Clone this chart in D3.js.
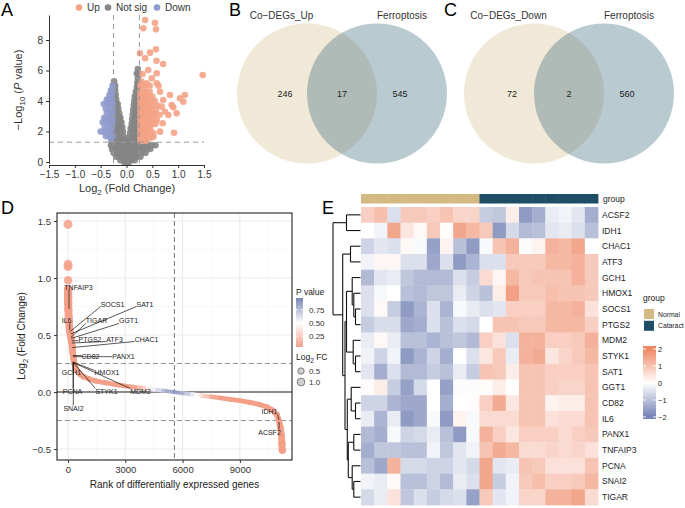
<!DOCTYPE html>
<html>
<head>
<meta charset="utf-8">
<script src="https://cdn.jsdelivr.net/npm/d3@7"></script>
<style>
  body { margin: 0; background: #fff; }
  text { font-family: "Liberation Sans", Arial, Helvetica, sans-serif; }
</style>
</head>
<body>
<svg id="fig" width="685" height="508"></svg>
<script>
// ---------- data ----------
// A: volcano, rows of [-log10 P, [log2FC ...]]
const volcanoNotSig = [
  [5.3, [-0.24]], [5.0, [-0.25, -0.22]], [4.7, [-0.25, -0.22]], [4.4, [-0.25, -0.21]],
  [4.1, [-0.24, -0.2]], [3.8, [-0.24, -0.2, -0.17]], [3.5, [-0.24, -0.2, -0.16]],
  [3.2, [-0.24, -0.19, -0.14]], [2.9, [-0.24, -0.19, -0.14, -0.12]],
  [2.6, [-0.24, -0.18, -0.13, -0.1]], [2.3, [-0.24, -0.18, -0.13, -0.08]],
  [2.0, [-0.24, -0.18, -0.12, -0.07]], [1.7, [-0.24, -0.18, -0.12, -0.06]],
  [1.45, [-0.24, -0.18, -0.12, -0.06, -0.03]],
  [6.1, [0.22]], [5.8, [0.2, 0.23]], [5.5, [0.22]], [5.2, [0.21, 0.24]], [4.9, [0.2, 0.23]],
  [4.6, [0.18, 0.22]], [4.3, [0.16, 0.2, 0.24]], [4.0, [0.15, 0.2, 0.24]],
  [3.7, [0.14, 0.19, 0.24]], [3.4, [0.13, 0.18, 0.23]], [3.1, [0.12, 0.17, 0.22]],
  [2.8, [0.11, 0.16, 0.21]], [2.5, [0.1, 0.15, 0.2, 0.24]], [2.2, [0.08, 0.13, 0.18, 0.23]],
  [1.9, [0.07, 0.12, 0.17, 0.22]], [1.6, [0.05, 0.1, 0.15, 0.2, 0.24]],
  [1.3, [-0.28, -0.22, -0.16, -0.1, -0.04, 0.03, 0.08, 0.13, 0.18, 0.23, 0.29, 0.35]],
  [1.1, [-0.3, -0.24, -0.18, -0.12, -0.06, -0.02, 0.02, 0.07, 0.12, 0.17, 0.22, 0.28, 0.34, 0.41, 0.48, 0.56]],
  [0.85, [-0.28, -0.22, -0.16, -0.1, -0.05, 0, 0.05, 0.1, 0.15, 0.2, 0.26, 0.32, 0.39, 0.46]],
  [0.6, [-0.25, -0.19, -0.13, -0.08, -0.03, 0.02, 0.07, 0.12, 0.17, 0.23, 0.3, 0.37]],
  [0.35, [-0.2, -0.14, -0.09, -0.04, 0, 0.04, 0.09, 0.14, 0.2, 0.27]],
  [0.12, [-0.12, -0.07, -0.03, 0.01, 0.05, 0.1, 0.16]],
  [-0.05, [-0.04, 0, 0.04]]
];
const volcanoDown = [
  [5.0, [-0.27]], [4.7, [-0.3, -0.27]], [4.4, [-0.33, -0.28]], [4.1, [-0.38, -0.32, -0.27]],
  [3.8, [-0.44, -0.37, -0.3, -0.27]], [3.5, [-0.4, -0.33, -0.27]], [3.2, [-0.38, -0.31, -0.27]],
  [2.9, [-0.43, -0.36, -0.3, -0.27]], [2.6, [-0.46, -0.4, -0.33, -0.27]],
  [2.3, [-0.42, -0.35, -0.28]], [2.0, [-0.5, -0.44, -0.37, -0.3]], [1.7, [-0.4, -0.33, -0.27]],
  [1.5, [-0.3]]
];
const volcanoUp = [
  [5.0, [0.27, 0.33, 0.37, 0.45, 0.62]], [4.6, [0.27, 0.32, 0.38, 0.45]],
  [4.3, [0.27, 0.31, 0.36, 0.42, 0.5]], [4.0, [0.27, 0.31, 0.36, 0.41, 0.47, 0.55]],
  [3.7, [0.27, 0.31, 0.35, 0.4, 0.45, 0.52, 0.6]], [3.4, [0.27, 0.31, 0.35, 0.4, 0.45, 0.5, 0.57]],
  [3.1, [0.27, 0.31, 0.35, 0.39, 0.44, 0.5, 0.56, 0.64]], [2.8, [0.27, 0.31, 0.35, 0.39, 0.44, 0.5]],
  [2.5, [0.27, 0.31, 0.35, 0.4, 0.45, 0.5, 0.56]], [2.2, [0.27, 0.31, 0.35, 0.4, 0.46]],
  [1.9, [0.27, 0.31, 0.35, 0.4, 0.45, 0.52]], [1.6, [0.27, 0.31, 0.36, 0.42, 0.48]],
  [1.4, [0.27, 0.32, 0.38]]
];
// scattered up-regulated points [log2FC, -log10 P]
const volcanoUpScatter = [
  [0.36, 9.31], [0.55, 9.13], [0.57, 8.70], [0.325, 8.77], [0.57, 7.39], [0.455, 7.17],
  [0.26, 7.13], [0.36, 6.80], [0.58, 6.64], [0.71, 6.43], [1.475, 5.70], [0.42, 6.03],
  [0.585, 5.82], [0.31, 5.77], [0.49, 5.49], [0.39, 5.16], [0.585, 5.16], [0.29, 5.27],
  [0.65, 4.61], [0.84, 4.39], [1.035, 4.18], [1.13, 4.39], [0.71, 4.07], [0.875, 3.74],
  [1.10, 3.95], [0.68, 3.63], [0.81, 3.08], [0.97, 3.19], [0.745, 3.30], [0.905, 3.59],
  [0.92, 1.92], [0.70, 2.54], [0.585, 2.75], [0.65, 1.99], [0.52, 1.66]
];
const volcanoXTicks = [-1.5, -1.0, -0.5, 0.0, 0.5, 1.0, 1.5];
const volcanoYTicks = [0, 2, 4, 6, 8];
const volcanoGroups = ["Up", "Not sig", "Down"];

// B, C: Venn
const vennLeftNames = ["Co\u2212DEGs_Up", "Co\u2212DEGs_Down"];
const vennRightNames = ["Ferroptosis", "Ferroptosis"];
const vennCounts = [[246, 17, 545], [72, 2, 560]];

// D: ranked log2FC curve
const rankCurve = [1, 2, 3, 4, 5, 6, 10, 20, 35, 50, 70, 100, 130, 160, 190, 220, 250, 280, 320, 420,
  600, 800, 1100, 1500, 2000, 2500, 3000, 3500, 4000, 4500, 5000, 5550, 6000, 6500, 7000, 7500,
  8000, 8500, 9000, 9500, 10000, 10400, 10700, 10940, 11040, 11120, 11170, 11200, 11220];
const fcCurve = [1.47, 1.12, 1.10, 0.98, 0.90, 0.83, 0.78, 0.72, 0.66, 0.62, 0.57, 0.53, 0.50, 0.47,
  0.44, 0.40, 0.35, 0.30, 0.26, 0.20, 0.16, 0.135, 0.115, 0.095, 0.08, 0.065, 0.053, 0.043, 0.033,
  0.022, 0.012, 0.0, -0.01, -0.02, -0.031, -0.042, -0.052, -0.064, -0.076, -0.09, -0.108, -0.13,
  -0.16, -0.20, -0.25, -0.31, -0.38, -0.45, -0.51];
const pCurve = [0.02, 0.02, 0.02, 0.02, 0.02, 0.02, 0.02, 0.02, 0.02, 0.02, 0.02, 0.02, 0.02, 0.02,
  0.02, 0.02, 0.02, 0.02, 0.02, 0.02, 0.02, 0.02, 0.03, 0.03, 0.03, 0.03, 0.04, 0.08, 0.3, 0.55,
  0.75, 0.9, 0.8, 0.6, 0.35, 0.12, 0.04, 0.03, 0.03, 0.02, 0.02, 0.02, 0.02, 0.02, 0.02, 0.02,
  0.02, 0.02, 0.02];
const labelGenes = ["TNFAIP3", "SOCS1", "SAT1", "IL6", "TIGAR", "GGT1", "PTGS2", "ATF3", "CHAC1",
  "CD82", "PANX1", "GCH1", "HMOX1", "PCNA", "STYK1", "MDM2", "SNAI2", "IDH1", "ACSF2"];
const labelRank = [52, 105, 157, 90, 157, 165, 190, 200, 220, 255, 262, 270, 275, 272, 280, 285, 278, 11047, 11050];
const labelFC = [0.73, 0.53, 0.51, 0.545, 0.48, 0.47, 0.45, 0.43, 0.39, 0.32, 0.31, 0.265, 0.262,
  0.262, 0.26, 0.258, 0.26, -0.245, -0.263];
const rankTicks = [0, 3000, 6000, 9000];
const fcTicks = [-0.5, 0.0, 0.5, 1.0, 1.5];
const pLegendTicks = [0.25, 0.5, 0.75];
const fcLegendSizes = [0.5, 1.0];

// E: heatmap
const heatGenes = ["ACSF2", "IDH1", "CHAC1", "ATF3", "GCH1", "HMOX1", "SOCS1", "PTGS2", "MDM2",
  "STYK1", "SAT1", "GGT1", "CD82", "IL6", "PANX1", "TNFAIP3", "PCNA", "SNAI2", "TIGAR"];
const sampleGroups = ["Normal", "Normal", "Normal", "Normal", "Normal", "Normal", "Normal", "Normal", "Normal",
  "Cataract", "Cataract", "Cataract", "Cataract", "Cataract", "Cataract", "Cataract", "Cataract", "Cataract"];
const heatValues = [
  [0.8, 1.1, -0.5, 0.9, 0.9, 0.8, 1.0, 0.7, 0.7, -0.8, -0.9, 0.3, -1.6, -1.3, -0.3, -0.2, -0.4, -1.3],
  [0, -0.2, 1.5, 0.4, 0.1, 0.9, 0.05, 1.5, 1.2, 0.9, -1.6, -0.6, -1.1, -1.0, -0.4, -0.3, -0.5, -1.0],
  [-0.7, -0.4, -0.5, 0.1, -0.1, -1.5, 0.2, -1.0, -1.6, -0.1, 1.0, 1.3, -0.05, 0.2, 1.3, 1.2, 1.5, 0],
  [-0.2, 0.15, 0.15, -0.5, -0.5, -1.4, -0.5, -1.6, -1.2, -0.5, -0.5, 0.9, 0.9, 0.9, 1.2, 1.2, 1.3, 0.9],
  [-1.1, -0.4, -0.3, -0.9, -1.1, -1.1, -1.1, -0.5, -0.8, 0.6, 0.15, 1.2, 0.9, 1.0, 1.0, 1.0, 1.3, 0.9],
  [-0.5, -0.1, 0, -1.0, -1.1, -0.9, -0.9, -0.3, -0.7, -1.0, 0.3, 1.6, 0.9, 0.9, 1.1, 1.0, 1.0, 0.9],
  [-0.5, 0.1, -0.8, -1.6, -1.2, -0.5, -1.2, -0.1, -0.3, -0.5, -0.4, 0.8, 0.8, 0.8, 1.2, 1.2, 1.3, 0.5],
  [-0.8, -0.55, -0.55, -1.4, -1.3, -0.5, -1.0, -0.5, -0.6, 0.0, 1.0, 1.0, 0.9, 0.9, 1.2, 1.2, 1.2, 0.8],
  [-0.3, 0.1, -0.3, -1.0, -1.0, -1.2, -1.0, -0.9, -1.1, 0.8, 0.5, -0.5, 1.3, 1.3, 0.8, 0.8, 0.9, 1.3],
  [-0.2, -0.7, -0.2, -1.6, -1.2, -0.7, -1.3, 0.0, -0.5, 0.4, 0.9, -0.3, 1.3, 1.4, 0.4, 0.7, 0.9, 1.2],
  [-0.4, -1.3, -0.5, -1.1, -1.1, -0.8, -1.0, -0.3, -0.8, 1.0, 0.9, 0.3, 1.0, 1.0, 0.8, 0.8, 0.8, 1.0],
  [0.05, 0.3, -0.8, -1.5, -0.6, 0.0, -1.5, -0.05, -0.05, 0.05, 0.3, 0.0, 1.0, 1.0, 0.8, 0.7, 0.7, 1.0],
  [-0.7, -0.7, -1.2, -1.4, -1.4, 0.0, -1.3, 0.0, 0.05, 0.8, 1.4, 0.4, 1.0, 1.0, 0.2, 0.3, 0.3, 1.0],
  [-0.3, -1.2, -0.3, -1.6, -1.4, -0.1, -1.6, 0.2, -0.1, 0.6, 0.6, 0.6, 1.0, 1.0, 0.5, 0.6, 0.6, 1.0],
  [-1.1, -1.3, -0.1, -0.7, -0.6, -0.3, -1.0, -1.6, -0.1, 1.3, 0.8, 0.4, 0.8, 0.8, 0.8, 0.6, 0.8, 0.9],
  [-1.3, -0.9, -0.9, -1.0, -1.0, -0.2, -0.9, -0.4, -0.2, 1.0, 1.4, 1.2, 0.6, 0.6, 0.7, 0.6, 0.7, 0.5],
  [-1.0, -1.4, 1.3, -0.6, -0.6, -0.7, -0.7, -0.4, -0.6, 1.5, -0.4, -0.3, 1.0, 0.9, 0.5, 0.5, 0.5, 1.0],
  [-0.2, -0.3, 0.1, -1.0, -1.0, -0.7, -1.1, -0.3, -0.5, 1.5, -0.8, -0.2, 0.9, 1.1, 0.8, 0.8, 0.9, 1.2],
  [-0.6, -0.3, 0.5, -0.9, -0.5, -0.8, -0.6, -0.5, -1.5, 0.9, -0.4, -0.2, 0.7, 0.7, 1.3, 1.3, 1.5, 0.6]
];
const heatTicks = [2, 1, 0, -1, -2];
// row clustering, h = merge height
const geneTree = {h: 27.5, children: [
  {h: 14, children: [{name: "ACSF2"}, {name: "IDH1"}]},
  {h: 17.8, children: [
    {h: 10, children: [{name: "CHAC1"}, {name: "ATF3"}]},
    {h: 15.5, children: [
      {h: 14, children: [
        {h: 8.3, children: [{name: "GCH1"}, {h: 6.7, children: [{name: "HMOX1"}, {h: 5, children: [{name: "SOCS1"}, {name: "PTGS2"}]}]}]},
        {h: 7.3, children: [{name: "MDM2"}, {h: 5, children: [{name: "STYK1"}, {name: "SAT1"}]}]}
      ]},
      {h: 13.2, children: [
        {h: 9.3, children: [{name: "GGT1"}, {h: 5, children: [{name: "CD82"}, {name: "IL6"}]}]},
        {h: 12.2, children: [
          {h: 6.7, children: [{name: "PANX1"}, {name: "TNFAIP3"}]},
          {h: 8.3, children: [{name: "PCNA"}, {h: 6.7, children: [{name: "SNAI2"}, {name: "TIGAR"}]}]}
        ]}
      ]}
    ]}
  ]}
]};

// ---------- drawing ----------
const svg = d3.select("#fig");
const ink = "#333333";

// panel letters
[["A", 1, 16], ["B", 229, 16], ["C", 444, 16], ["D", 1, 214], ["E", 322, 214]].forEach(([t, x, y]) =>
  svg.append("text").attr("x", x).attr("y", y).attr("font-size", 18).text(t));

// ===== A: volcano =====
const gA = svg.append("g");
const xA = d3.scaleLinear().domain([-1.5, 1.5]).range([49, 204]);
const yA = d3.scaleLinear().domain([-0.085, 9.64]).range([163.3, 15]);
const colA = d3.scaleOrdinal().domain(volcanoGroups).range(["#F4A386", "#858585", "#8F9BCC"]);
const flat = rows => rows.flatMap(([v, fcs]) => fcs.map(fc => ({fc, v})));
const ptsA = [
  ...flat(volcanoNotSig).map(d => ({...d, g: "Not sig"})),
  ...flat(volcanoDown).map(d => ({...d, g: "Down"})),
  ...flat(volcanoUp).map(d => ({...d, g: "Up"})),
  ...volcanoUpScatter.map(([fc, v]) => ({fc, v, g: "Up"}))
];
gA.selectAll("circle.pt").data(ptsA).join("circle")
  .attr("cx", d => xA(d.fc)).attr("cy", d => yA(d.v)).attr("r", 3.3)
  .attr("fill", d => colA(d.g)).attr("fill-opacity", 0.9);

const dashA = {stroke: "#9a9a9a", "stroke-width": 1, "stroke-dasharray": "5,4"};
[-0.25, 0.25].forEach(v => {
  const l = gA.append("line").attr("x1", xA(v)).attr("x2", xA(v)).attr("y1", yA.range()[1]).attr("y2", yA.range()[0]);
  Object.entries(dashA).forEach(([k, val]) => l.attr(k, val));
});
{
  const l = gA.append("line").attr("x1", xA(-1.5)).attr("x2", xA(1.5)).attr("y1", yA(1.3)).attr("y2", yA(1.3));
  Object.entries(dashA).forEach(([k, val]) => l.attr(k, val));
}

const axA = gA.append("g").call(d3.axisLeft(yA).tickValues(volcanoYTicks).tickSize(3).tickSizeOuter(0).tickFormat(d3.format("d")))
  .attr("transform", "translate(49,0)");
const axB = gA.append("g").attr("transform", "translate(0,165)")
  .call(d3.axisBottom(xA).tickValues(volcanoXTicks).tickSize(3).tickSizeOuter(0).tickFormat(d3.format(".1f")));
[axA, axB].forEach(a => {
  a.selectAll("path, line").attr("stroke", ink);
  a.selectAll("text").attr("font-size", 10).attr("fill", ink).attr("font-family", null);
});

// axis titles A
const ytA = gA.append("text").attr("transform", "translate(22,90) rotate(-90)").attr("text-anchor", "middle").attr("font-size", 11).attr("fill", ink);
ytA.append("tspan").text("\u2212Log");
ytA.append("tspan").attr("font-size", 8).attr("dy", 3).text("10");
ytA.append("tspan").attr("dy", -3).text(" (");
ytA.append("tspan").attr("font-style", "italic").text("P");
ytA.append("tspan").text(" value)");
const xtA = gA.append("text").attr("x", 127).attr("y", 192).attr("text-anchor", "middle").attr("font-size", 11).attr("fill", ink);
xtA.append("tspan").text("Log");
xtA.append("tspan").attr("font-size", 8).attr("dy", 3).text("2");
xtA.append("tspan").attr("dy", -3).text(" (Fold Change)");

// legend A
const legX = [79, 108, 157];
volcanoGroups.forEach((g, i) => {
  gA.append("circle").attr("cx", legX[i]).attr("cy", 7.5).attr("r", 3.3).attr("fill", colA(g));
  gA.append("text").attr("x", legX[i] + 8).attr("y", 11).attr("font-size", 10).attr("fill", ink).text(g);
});

// ===== B, C: Venn =====
const vennCx = [307, 534];
const vennR = 70, vennCy = 93.5, vennGap = 70;
vennCounts.forEach((counts, i) => {
  const g = svg.append("g");
  const cl = vennCx[i], cr = vennCx[i] + vennGap;
  g.append("circle").attr("cx", cl).attr("cy", vennCy).attr("r", vennR).attr("fill", "#D2B77E").attr("fill-opacity", 0.3);
  g.append("circle").attr("cx", cr).attr("cy", vennCy).attr("r", vennR).attr("fill", "#1C4F66").attr("fill-opacity", 0.3);
  g.append("text").attr("x", cl - 25.5).attr("y", 19).attr("text-anchor", "middle").attr("font-size", 10).attr("fill", ink).text(vennLeftNames[i]);
  g.append("text").attr("x", cr + 25).attr("y", 19).attr("text-anchor", "middle").attr("font-size", 10).attr("fill", ink).text(vennRightNames[i]);
  const nx = [cl - 22, (cl + cr) / 2, cr + 23];
  counts.forEach((c, j) => g.append("text").attr("x", nx[j]).attr("y", vennCy + 3.5).attr("text-anchor", "middle")
    .attr("font-size", 9).attr("fill", "#222").text(c));
});

// ===== D: ranked log2FC =====
const gD = svg.append("g");
const xD = d3.scaleLinear().domain([-576, 11728]).range([57, 292]);
const yD = d3.scaleLinear().domain([-0.596, 1.57]).range([460, 213]);
const pCol = d3.scaleLinear().domain([0.046, 0.5, 0.97]).range(["#F4A088", "#ffffff", "#7886B5"]).clamp(true);
const rSize = d3.scaleSqrt().domain([0, 1]).range([1.7, 4.3]);

// grid
const minorX = [1500, 4500, 7500, 10500], minorY = [-0.25, 0.25, 0.75, 1.25];
minorX.forEach(v => gD.append("line").attr("x1", xD(v)).attr("x2", xD(v)).attr("y1", 213).attr("y2", 460).attr("stroke", "#F4F4F4").attr("stroke-width", 0.6));
minorY.forEach(v => gD.append("line").attr("y1", yD(v)).attr("y2", yD(v)).attr("x1", 57).attr("x2", 292).attr("stroke", "#F4F4F4").attr("stroke-width", 0.6));
rankTicks.forEach(v => gD.append("line").attr("x1", xD(v)).attr("x2", xD(v)).attr("y1", 213).attr("y2", 460).attr("stroke", "#EBEBEB").attr("stroke-width", 1.1));
fcTicks.forEach(v => gD.append("line").attr("y1", yD(v)).attr("y2", yD(v)).attr("x1", 57).attr("x2", 292).attr("stroke", "#EBEBEB").attr("stroke-width", 1.1));

// reference lines
gD.append("line").attr("x1", xD(5570)).attr("x2", xD(5570)).attr("y1", 213).attr("y2", 460)
  .attr("stroke", "#666").attr("stroke-width", 0.9).attr("stroke-dasharray", "5,3");
[-0.25, 0.25].forEach(v => gD.append("line").attr("x1", 57).attr("x2", 292).attr("y1", yD(v)).attr("y2", yD(v))
  .attr("stroke", "#888").attr("stroke-width", 0.9).attr("stroke-dasharray", "5,3"));
gD.append("line").attr("x1", 57).attr("x2", 292).attr("y1", yD(0)).attr("y2", yD(0)).attr("stroke", "#222").attr("stroke-width", 1.1);

// curve
const curve = rankCurve.map((r, i) => ({r, fc: fcCurve[i], p: pCurve[i]}));
const segs = d3.pairs(curve).filter(([a, b]) => a.fc <= 0.9 && b.fc <= 0.9);
gD.selectAll("line.seg").data(segs).join("line")
  .attr("x1", d => xD(d[0].r)).attr("y1", d => yD(d[0].fc))
  .attr("x2", d => xD(d[1].r)).attr("y2", d => yD(d[1].fc))
  .attr("stroke", d => pCol((d[0].p + d[1].p) / 2))
  .attr("stroke-width", d => 2 * rSize((Math.abs(d[0].fc) + Math.abs(d[1].fc)) / 2))
  .attr("stroke-linecap", "round");
gD.selectAll("circle.cp").data(curve).join("circle")
  .attr("cx", d => xD(d.r)).attr("cy", d => yD(d.fc)).attr("r", d => rSize(Math.min(Math.abs(d.fc), 1.2)))
  .attr("fill", d => pCol(d.p)).attr("fill-opacity", d => d.fc > 0.9 ? 0.85 : 1);

// gene labels with leader lines
const labelPos = { // label centre [rank, log2FC]
  TNFAIP3: [550, 0.921], SOCS1: [2330, 0.772], SAT1: [4032, 0.772], IL6: [-79, 0.623],
  TIGAR: [1492, 0.623], GGT1: [3168, 0.623], PTGS2: [1152, 0.465], ATF3: [2435, 0.465],
  CHAC1: [4110, 0.465], CD82: [1178, 0.316], PANX1: [2906, 0.316], GCH1: [183, 0.167],
  HMOX1: [2042, 0.167], PCNA: [236, 0.009], STYK1: [2016, 0.009], MDM2: [3796, 0.009],
  SNAI2: [288, -0.140], IDH1: [10550, -0.175], ACSF2: [10550, -0.351]
};
const gLab = gD.append("g");
const gLines = gD.append("g");
labelGenes.forEach((name, i) => {
  const [lr, lf] = labelPos[name];
  const t = gLab.append("text").attr("x", xD(lr)).attr("y", yD(lf) + 2.5).attr("text-anchor", "middle")
    .attr("font-size", 7).attr("fill", "#222").text(name);
  const bb = t.node().getBBox();
  const px = xD(labelRank[i]), py = yD(labelFC[i]);
  const y0 = bb.y + 1, y1 = bb.y + bb.height - 1;
  const qx = Math.max(bb.x, Math.min(px, bb.x + bb.width));
  const qy = Math.max(y0, Math.min(py, y1));
  gLines.append("line").attr("x1", px).attr("y1", py).attr("x2", qx).attr("y2", qy)
    .attr("stroke", "#111").attr("stroke-width", 0.7);
});

// border + axes
gD.append("rect").attr("x", 57).attr("y", 213).attr("width", 235).attr("height", 247)
  .attr("fill", "none").attr("stroke", "#222").attr("stroke-width", 1.1);
const axDL = gD.append("g").attr("transform", "translate(57,0)")
  .call(d3.axisLeft(yD).tickValues(fcTicks).tickSize(3).tickFormat(d3.format(".1f")));
const axDB = gD.append("g").attr("transform", "translate(0,460)")
  .call(d3.axisBottom(xD).tickValues(rankTicks).tickSize(3).tickFormat(d3.format("d")));
[axDL, axDB].forEach(a => {
  a.select(".domain").remove();
  a.selectAll("line").attr("stroke", ink);
  a.selectAll("text").attr("font-size", 9.5).attr("fill", ink).attr("font-family", null);
});
gD.append("text").attr("x", 174.5).attr("y", 488).attr("text-anchor", "middle").attr("font-size", 10).attr("fill", "#222")
  .text("Rank of differentially expressed genes");
const ytD = gD.append("text").attr("transform", "translate(25,336) rotate(-90)").attr("text-anchor", "middle").attr("font-size", 10).attr("fill", "#222");
ytD.append("tspan").text("Log");
ytD.append("tspan").attr("font-size", 7.5).attr("dy", 3).text("2");
ytD.append("tspan").attr("dy", -3).text(" (Fold Change)");

// legends D
gD.append("text").attr("x", 296).attr("y", 295).attr("font-size", 8.5).attr("fill", "#222").text("P value");
const pLeg = d3.scaleLinear().domain([0.97, 0.046]).range([298, 347]);
const defs = svg.append("defs");
const gradP = defs.append("linearGradient").attr("id", "gradP").attr("x1", 0).attr("x2", 0).attr("y1", 0).attr("y2", 1);
d3.range(0, 1.0001, 0.1).forEach(t => gradP.append("stop").attr("offset", t).attr("stop-color", pCol(pLeg.invert(298 + t * 49))));
gD.append("rect").attr("x", 296).attr("y", 298).attr("width", 7).attr("height", 49).attr("fill", "url(#gradP)");
pLegendTicks.forEach(v => {
  const y = pLeg(v);
  gD.append("line").attr("x1", 296).attr("x2", 298).attr("y1", y).attr("y2", y).attr("stroke", "#fff").attr("stroke-width", 0.8);
  gD.append("line").attr("x1", 301).attr("x2", 303).attr("y1", y).attr("y2", y).attr("stroke", "#fff").attr("stroke-width", 0.8);
  gD.append("text").attr("x", 309).attr("y", y + 3).attr("font-size", 8).attr("fill", ink).text(d3.format(".2f")(v));
});
const fcLegT = gD.append("text").attr("x", 296).attr("y", 360).attr("font-size", 8.5).attr("fill", "#222");
fcLegT.append("tspan").text("Log");
fcLegT.append("tspan").attr("font-size", 6.5).attr("dy", 2.5).text("2");
fcLegT.append("tspan").attr("dy", -2.5).text(" FC");
fcLegendSizes.forEach((s, i) => {
  const y = 371 + i * 11;
  gD.append("circle").attr("cx", 301).attr("cy", y).attr("r", rSize(s) * 0.9).attr("fill", "#cfcfcf").attr("stroke", "#666").attr("stroke-width", 0.8);
  gD.append("text").attr("x", 309).attr("y", y + 3).attr("font-size", 8).attr("fill", ink).text(d3.format(".1f")(s));
});

// ===== E: heatmap =====
const gE = svg.append("g");
const xE = d3.scaleBand().domain(d3.range(sampleGroups.length)).range([361, 598]);
const yE = d3.scaleBand().domain(heatGenes).range([207, 505]);
const heatCol = d3.scaleLinear().domain([-2, 0, 2]).range(["#7382B4", "#ffffff", "#EE8866"]).clamp(true);
const groupCol = d3.scaleOrdinal().domain(["Normal", "Cataract"]).range(["#D3BA83", "#1D4E66"]);

gE.selectAll("rect.grp").data(sampleGroups).join("rect")
  .attr("x", (d, j) => xE(j)).attr("y", 194).attr("width", xE.bandwidth() + 0.4).attr("height", 9.5)
  .attr("fill", d => groupCol(d));
gE.append("text").attr("x", 603).attr("y", 202).attr("font-size", 8.5).attr("fill", "#222").text("group");

const cells = heatValues.flatMap((row, i) => row.map((v, j) => ({g: heatGenes[i], j, v})));
gE.selectAll("rect.cell").data(cells).join("rect")
  .attr("x", d => xE(d.j)).attr("y", d => yE(d.g))
  .attr("width", xE.bandwidth() + 0.4).attr("height", yE.bandwidth() + 0.4)
  .attr("fill", d => heatCol(d.v));
gE.selectAll("text.gene").data(heatGenes).join("text")
  .attr("x", 602).attr("y", d => yE(d) + yE.bandwidth() / 2 + 3)
  .attr("font-size", 8.5).attr("fill", "#222").text(d => d);

// dendrogram
const root = d3.hierarchy(geneTree);
const hx = d3.scaleLinear().domain([0, geneTree.h]).range([360.5, 333]);
root.eachAfter(n => {
  n.py = n.children ? d3.mean(n.children, c => c.py) : yE(n.data.name) + yE.bandwidth() / 2;
  n.px = hx(n.data.h || 0);
});
const gT = gE.append("g").attr("stroke", "#111").attr("stroke-width", 1.1).attr("fill", "none");
root.descendants().filter(n => n.children).forEach(n => {
  const ys = n.children.map(c => c.py);
  gT.append("line").attr("x1", n.px).attr("x2", n.px).attr("y1", d3.min(ys)).attr("y2", d3.max(ys));
  n.children.forEach(c => gT.append("line").attr("x1", n.px).attr("x2", c.px).attr("y1", c.py).attr("y2", c.py));
});

// group legend
gE.append("text").attr("x", 643).attr("y", 301).attr("font-size", 8.5).attr("fill", "#222").text("group");
["Normal", "Cataract"].forEach((g, i) => {
  const y = 309 + i * 11.8;
  gE.append("rect").attr("x", 644).attr("y", y).attr("width", 10).attr("height", 10).attr("fill", groupCol(g));
  gE.append("text").attr("x", 658).attr("y", y + 7.5).attr("font-size", 6.8).attr("fill", "#222").text(g);
});

// colour legend
const legH = d3.scaleLinear().domain([2.18, -2.12]).range([346, 419]);
const gradH = defs.append("linearGradient").attr("id", "gradH").attr("x1", 0).attr("x2", 0).attr("y1", 0).attr("y2", 1);
d3.range(0, 1.0001, 0.05).forEach(t => gradH.append("stop").attr("offset", t).attr("stop-color", heatCol(legH.invert(346 + t * 73))));
gE.append("rect").attr("x", 643).attr("y", 346).attr("width", 13).attr("height", 73).attr("fill", "url(#gradH)");
heatTicks.forEach(v => {
  const y = legH(v);
  gE.append("line").attr("x1", 643).attr("x2", 646).attr("y1", y).attr("y2", y).attr("stroke", "#fff").attr("stroke-width", 0.9);
  gE.append("line").attr("x1", 653).attr("x2", 656).attr("y1", y).attr("y2", y).attr("stroke", "#fff").attr("stroke-width", 0.9);
  gE.append("text").attr("x", 658).attr("y", y + 3).attr("font-size", 7.5).attr("fill", "#222").text(d3.format("d")(v));
});
</script>
</body>
</html>
